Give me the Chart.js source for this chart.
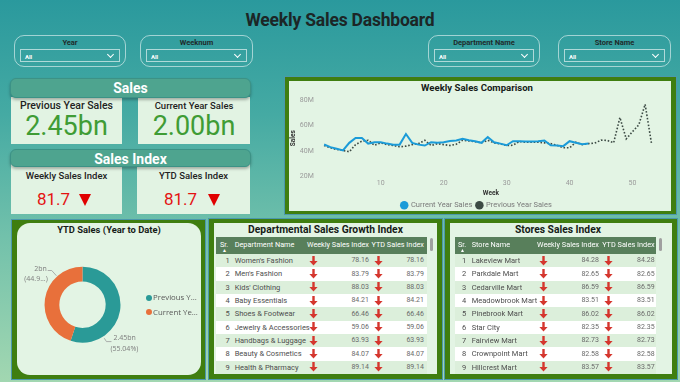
<!DOCTYPE html>
<html>
<head>
<meta charset="utf-8">
<script src="https://cdn.jsdelivr.net/npm/chart.js@4.4.1/dist/chart.umd.min.js"></script>
<style>
  html, body { margin: 0; padding: 0; }
  body {
    width: 680px; height: 382px; overflow: hidden; position: relative;
    font-family: Roboto, 'Open Sans', sans-serif;
    background: linear-gradient(180deg, #2a999d 0%, #45aaa3 30%, #72c1ab 62%, #a2d7b1 100%);
  }
  .abs { position: absolute; }
  .title { left: 0; width: 680px; top: 10px; text-align: center; font-size: 17.5px; font-weight: 700; color: #1c2626; letter-spacing: -0.2px; }
  .slicer { border: 1px solid rgba(255,255,255,0.55); border-radius: 10px; height: 30px; top: 35px; }
  .slicer .lbl { position: absolute; left: 0; right: 0; top: 2px; text-align: center; font-size: 7.5px; font-weight: 700; color: #1f2b2b; }
  .slicer .dd { position: absolute; left: 5px; right: 5px; top: 13px; height: 13px; border: 1px solid rgba(255,255,255,0.6); font-size: 6px; color: #fff; font-weight: 700; line-height: 13px; padding-left: 4px; box-sizing: border-box; }
  .slicer .chev { position: absolute; right: 6px; top: 2px; width: 4px; height: 4px; border-right: 1px solid #fff; border-bottom: 1px solid #fff; transform: rotate(45deg); }
  .hdr { background: #4ea48f; border: 1px solid #3c9286; border-radius: 6px; box-shadow: 0 2px 3px rgba(0,0,0,0.28); color: #fff; font-weight: 700; font-size: 14px; text-align: center; box-sizing: border-box; z-index: 2; }
  .card { background: #e2f3e3; box-sizing: border-box; text-align: center; }
  .card .cl { position: absolute; left: 0; right: 0; font-weight: 500; color: #222; }
  .card .cv { position: absolute; left: 0; right: 0; color: #3f9c35; font-size: 27px; }
  .card .iv { position: absolute; color: #e41212; font-size: 17px; }
  .tri { position: absolute; width: 0; height: 0; border-left: 6px solid transparent; border-right: 6px solid transparent; border-top: 12px solid #e00000; }
  .panel { background: #3f7e10; border: 1px solid #4b98ac; box-sizing: border-box; }
  .inner { background: #e3f4e4; }
  .ptitle { font-weight: 700; color: #161c18; text-align: center; }
  .tbl { overflow: hidden; }
  .thead { position: absolute; left: 0; right: 0; top: 0; height: 17px; background: #587f5b; color: #fff; font-size: 7.3px; }
  .row { position: absolute; left: 0; right: 0; height: 13.35px; font-size: 7.5px; color: #4e4e4e; }
  .row span, .thead span { position: absolute; white-space: nowrap; }
  .num { font-size: 7px; color: #6a6a6a; }
  .scroll { background: #a0a0a0; border-radius: 2px; width: 3px; }
  .leg { font-size: 7.8px; color: #595959; font-family: 'Open Sans', sans-serif; white-space: nowrap; }
  .dot { display: inline-block; width: 6px; height: 6px; border-radius: 50%; margin-right: 1px; vertical-align: -0.5px; }
</style>
</head>
<body>
<div class="abs title">Weekly Sales Dashboard</div>

<div class="abs slicer" style="left:14px;width:110px"><div class="lbl">Year</div><div class="dd">All<div class="chev"></div></div></div>
<div class="abs slicer" style="left:140px;width:111px"><div class="lbl">Weeknum</div><div class="dd">All<div class="chev"></div></div></div>
<div class="abs slicer" style="left:428px;width:110px"><div class="lbl">Department Name</div><div class="dd">All<div class="chev"></div></div></div>
<div class="abs slicer" style="left:558px;width:111px"><div class="lbl">Store Name</div><div class="dd">All<div class="chev"></div></div></div>

<div class="abs hdr" style="left:10px;top:78px;width:241px;height:20px;line-height:19px">Sales</div>
<div class="abs card" style="left:11px;top:97px;width:111px;height:47px">
  <div class="cl" style="top:2px;font-size:10.5px">Previous Year Sales</div>
  <div class="cv" style="top:13px">2.45bn</div>
</div>
<div class="abs card" style="left:138px;top:97px;width:112px;height:47px">
  <div class="cl" style="top:3px;font-size:9.5px">Current Year Sales</div>
  <div class="cv" style="top:13px">2.00bn</div>
</div>

<div class="abs hdr" style="left:10px;top:149px;width:241px;height:18px;line-height:18px">Sales Index</div>
<div class="abs card" style="left:11px;top:163px;width:111px;height:51px">
  <div class="cl" style="top:7px;font-size:9.5px">Weekly Sales Index</div>
  <div class="iv" style="left:26px;top:26px">81.7</div>
  <div class="tri" style="left:68px;top:31px"></div>
</div>
<div class="abs card" style="left:137px;top:163px;width:113px;height:51px">
  <div class="cl" style="top:7px;font-size:9.5px">YTD Sales Index</div>
  <div class="iv" style="left:27px;top:26px">81.7</div>
  <div class="tri" style="left:71px;top:31px"></div>
</div>

<!-- line chart panel -->
<div class="abs panel" style="left:284px;top:76px;width:393px;height:139px"></div>
<div class="abs inner" style="left:289px;top:81px;width:382px;height:130px"></div>
<div class="abs ptitle" style="left:289px;top:82px;width:376px;font-size:9.6px">Weekly Sales Comparison</div>
<canvas id="lineChart" class="abs" style="left:289px;top:81px" width="381" height="138"></canvas>

<!-- donut panel -->
<div class="abs panel" style="left:11px;top:219px;width:195px;height:161px"></div>
<div class="abs inner" style="left:17px;top:223px;width:184px;height:152px;border-radius:13px"></div>
<div class="abs ptitle" style="left:17px;top:224px;width:184px;font-size:9.4px">YTD Sales (Year to Date)</div>
<canvas id="donutChart" class="abs" style="left:17px;top:240px" width="183" height="132"></canvas>
<div class="abs leg" id="donutLegend" style="left:146px;top:292px"></div>

<!-- department table -->
<div class="abs panel" style="left:208px;top:218px;width:235px;height:162px"></div>
<div class="abs inner" style="left:214px;top:223px;width:223px;height:151px"></div>
<div class="abs ptitle" style="left:214px;top:223px;width:223px;font-size:10.3px">Departmental Sales Growth Index</div>
<div class="abs tbl" id="deptTable" style="left:216px;top:237px;width:211px;height:137px"></div>
<div class="abs scroll" style="left:430px;top:238px;height:13px"></div>

<!-- stores table -->
<div class="abs panel" style="left:444px;top:218px;width:234px;height:162px"></div>
<div class="abs inner" style="left:450px;top:223px;width:222px;height:151px"></div>
<div class="abs ptitle" style="left:450px;top:223px;width:216px;font-size:10.3px">Stores Sales Index</div>
<div class="abs tbl" id="storeTable" style="left:455px;top:237px;width:201px;height:137px"></div>
<div class="abs scroll" style="left:659px;top:238px;height:13px"></div>

<script>
// weekly sales, millions
const weekNumbers = [1, 2, 3, 4, 5, 6, 7, 8, 9, 10, 11, 12, 13, 14, 15, 16, 17, 18, 19, 20, 21, 22, 23, 24, 25, 26, 27,
  28, 29, 30, 31, 32, 33, 34, 35, 36, 37, 38, 39, 40, 41, 42, 43, 44, 45, 46, 47, 48, 49, 50, 51, 52, 53];
const currentYearSales = [45.1, 43.0, 41.7, 40.4, 46.4, 50.2, 50.2, 45.8, 46.9, 46.9, 45.8, 45.0, 45.0, 53.3, 46.4,
  45.0, 44.3, 46.9, 46.4, 46.9, 47.9, 48.2, 49.5, 48.4, 47.7, 46.4, 51.0, 46.9, 45.8, 44.5, 47.7, 47.7, 47.4, 47.4,
  47.7, 48.2, 44.5, 44.3, 43.8, 47.7, 46.4, 45.3, 45.8];
const previousYearSales = [44.3, 42.5, 41.2, 40.4, 39.4, 45.0, 47.7, 48.4, 44.5, 46.4, 45.0, 44.3, 43.3, 43.8, 45.0,
  45.8, 48.4, 44.3, 45.8, 45.0, 44.3, 45.3, 48.4, 47.9, 47.2, 46.4, 48.4, 46.4, 45.6, 44.3, 44.5, 47.4, 46.9, 46.9,
  46.9, 46.4, 45.8, 44.5, 42.5, 42.5, 46.9, 45.0, 45.8, 46.2, 48.5, 48.3, 46.4, 66.3, 49.5, 55.2, 60.5, 76.6, 46.4];
const salesTicks = [20, 40, 60, 80];
const weekTicks = [10, 20, 30, 40, 50];

// YTD totals, billions
const ytdLabels = ['Previous Year Sales', 'Current Year Sales'];
const ytdValues = [2.45, 2.00];
const ytdShares = ['55.04%', '44.9...'];

const deptNames = ["Women's Fashion", "Men's Fashion", "Kids' Clothing", 'Baby Essentials', 'Shoes & Footwear',
  'Jewelry & Accessories', 'Handbags & Luggage', 'Beauty & Cosmetics', 'Health & Pharmacy'];
const deptWeeklyIndex = [78.16, 83.79, 88.03, 84.21, 66.46, 59.06, 63.93, 84.07, 89.14];
const deptYtdIndex = [78.16, 83.79, 88.03, 84.21, 66.46, 59.06, 63.93, 84.07, 89.14];

const storeNames = ['Lakeview Mart', 'Parkdale Mart', 'Cedarville Mart', 'Meadowbrook Mart', 'Pinebrook Mart',
  'Star City', 'Fairview Mart', 'Crownpoint Mart', 'Hillcrest Mart'];
const storeWeeklyIndex = [84.28, 82.65, 86.59, 83.51, 86.02, 82.35, 82.73, 82.58, 83.57];
const storeYtdIndex = [84.28, 82.65, 86.59, 83.51, 86.02, 82.35, 82.73, 82.58, 83.57];

const blue = '#1b9bd8';
const darkGrey = '#3c4a44';
const teal = '#2a9a97';
const orange = '#e8703b';

Chart.defaults.font.family = "Roboto, 'Open Sans', sans-serif";

function renderLineChart() {
  const ctx = document.getElementById('lineChart');
  new Chart(ctx, {
    type: 'line',
    data: {
      datasets: [
        {
          label: 'Current Year Sales',
          data: currentYearSales.map((v, i) => ({ x: weekNumbers[i], y: v })),
          borderColor: blue,
          backgroundColor: blue,
          borderWidth: 2,
          pointRadius: 0,
          tension: 0,
        },
        {
          label: 'Previous Year Sales',
          data: previousYearSales.map((v, i) => ({ x: weekNumbers[i], y: v })),
          borderColor: darkGrey,
          backgroundColor: darkGrey,
          borderWidth: 1.6,
          borderDash: [1.6, 1.8],
          pointRadius: 0,
          tension: 0,
        },
      ],
    },
    options: {
      responsive: false,
      animation: false,
      layout: { padding: { top: 19, right: 6, left: 0, bottom: 0 } },
      plugins: {
        tooltip: { enabled: false },
        legend: {
          position: 'bottom',
          labels: {
            usePointStyle: true,
            pointStyle: 'circle',
            boxWidth: 6,
            boxHeight: 6,
            padding: 4,
            color: '#7a7a7a',
            font: { size: 7.5 },
            generateLabels(chart) {
              return chart.data.datasets.map((ds, i) => ({
                text: ds.label,
                fillStyle: ds.backgroundColor,
                strokeStyle: ds.backgroundColor,
                lineWidth: 0,
                lineDash: [],
                pointStyle: 'circle',
                fontColor: '#7a7a7a',
                datasetIndex: i,
              }));
            },
          },
        },
      },
      scales: {
        x: {
          type: 'linear',
          min: 0,
          max: 55,
          grid: { display: false, drawTicks: false },
          border: { display: false },
          afterBuildTicks(scale) {
            scale.ticks = weekTicks.map((v) => ({ value: v }));
          },
          afterFit(scale) {
            scale.height = 21;
          },
          ticks: { color: '#9a9a9a', font: { size: 7 }, padding: 3 },
          title: { display: true, text: 'Week', color: '#333', font: { size: 6.5, weight: 'bold' }, padding: 0 },
        },
        y: {
          min: 20,
          max: 80,
          grid: { display: false, drawTicks: false },
          border: { display: false },
          afterBuildTicks(scale) {
            scale.ticks = salesTicks.map((v) => ({ value: v }));
          },
          afterFit(scale) {
            scale.width = 28.8;
          },
          ticks: {
            color: '#9a9a9a',
            font: { size: 7 },
            padding: 4,
            callback(value) {
              return `${value}M`;
            },
          },
          title: { display: true, text: 'Sales', color: '#333', font: { size: 6.5, weight: 'bold' }, padding: 0 },
        },
      },
    },
  });
}

// leader-line labels drawn from the arcs the library laid out
const donutLabelAngles = [147, 318];
const donutLabelsPlugin = {
  id: 'donutLabels',
  afterDatasetsDraw(chart) {
    const meta = chart.getDatasetMeta(0);
    const { ctx } = chart;
    ctx.save();
    ctx.font = "7px 'Open Sans', sans-serif";
    ctx.textBaseline = 'middle';
    ctx.fillStyle = '#7d7d7d';
    ctx.strokeStyle = '#9a9a9a';
    ctx.lineWidth = 0.8;
    meta.data.forEach((arc, i) => {
      const a = (donutLabelAngles[i] * Math.PI) / 180;
      const right = Math.sin(a) > 0;
      const r0 = arc.outerRadius + (right ? 2 : 1);
      const r1 = arc.outerRadius + (right ? 6 : 8);
      const sx = arc.x + r0 * Math.sin(a);
      const sy = arc.y - r0 * Math.cos(a);
      const ex = arc.x + r1 * Math.sin(a);
      const ey = arc.y - r1 * Math.cos(a);
      const hx = ex + (right ? 5 : -4);
      ctx.beginPath();
      ctx.moveTo(sx, sy);
      ctx.lineTo(ex, ey);
      ctx.lineTo(hx, ey);
      ctx.stroke();
      const valueText = `${ytdValues[i] % 1 === 0 ? ytdValues[i].toFixed(0) : ytdValues[i].toFixed(2)}bn`;
      const shareText = `(${ytdShares[i]})`;
      if (right) {
        ctx.textAlign = 'left';
        ctx.fillText(valueText, hx + 2, ey - 4);
        ctx.fillText(shareText, hx - 1, ey + 7);
      } else {
        ctx.textAlign = 'right';
        ctx.fillText(valueText, hx - 1, ey - 2);
        ctx.fillText(shareText, hx, ey + 8);
      }
    });
    ctx.restore();
  },
};

function renderDonutChart() {
  const ctx = document.getElementById('donutChart');
  new Chart(ctx, {
    type: 'doughnut',
    data: {
      labels: ytdLabels,
      datasets: [
        {
          data: ytdValues,
          backgroundColor: [teal, orange],
          borderWidth: 0,
        },
      ],
    },
    options: {
      responsive: false,
      animation: false,
      cutout: '61%',
      layout: { padding: { left: 27.5, top: 26.7, right: 79.5, bottom: 29.3 } },
      plugins: { legend: { display: false }, tooltip: { enabled: false } },
    },
    plugins: [donutLabelsPlugin],
  });

  const legend = document.getElementById('donutLegend');
  legend.innerHTML = ytdLabels
    .map((label, i) => {
      const colour = [teal, orange][i];
      const short = label.split(' ').slice(0, 2).join(' ').slice(0, 10) + '...';
      return `<div style="height:14.5px"><span class="dot" style="background:${colour}"></span>${short}</div>`;
    })
    .join('');
}

const arrowSvg =
  '<svg width="9" height="10" viewBox="0 0 9 10"><path d="M3.3 0 H5.7 V5 H8.6 L4.5 9.6 L0.4 5 H3.3 Z" fill="#d5362e"/></svg>';

function renderTable(id, header, names, weekly, ytd, cols) {
  const el = document.getElementById(id);
  let html = `<div class="thead">
    <span style="left:${cols.sr}px;top:3px">Sr.</span>
    <span style="left:${cols.sr + 2}px;top:10px;font-size:5px">&#9650;</span>
    <span style="left:${cols.name}px;top:3px">${header}</span>
    <span style="right:${cols.width - cols.wNum}px;top:3px">Weekly Sales Index</span>
    <span style="right:${cols.width - cols.yNum}px;top:3px">YTD Sales Index</span>
  </div>`;
  names.forEach((name, i) => {
    const top = 17 + i * 13.35;
    const bg = i % 2 === 0 ? '#dcefdb' : '#ffffff';
    html += `<div class="row" style="top:${top}px;background:${bg}">
      <span style="right:${cols.width - cols.num}px;top:2px">${i + 1}</span>
      <span style="left:${cols.name}px;top:2px">${name}</span>
      <span style="left:${cols.wArrow - 4.5}px;top:1.6px">${arrowSvg}</span>
      <span class="num" style="right:${cols.width - cols.wNum}px;top:2.3px">${weekly[i].toFixed(2)}</span>
      <span style="left:${cols.yArrow - 4.5}px;top:1.6px">${arrowSvg}</span>
      <span class="num" style="right:${cols.width - cols.yNum}px;top:2.3px">${ytd[i].toFixed(2)}</span>
    </div>`;
  });
  el.innerHTML = html;
}

renderLineChart();
renderDonutChart();
renderTable('deptTable', 'Department Name', deptNames, deptWeeklyIndex, deptYtdIndex,
  { width: 211, sr: 4, num: 13.7, name: 18.7, wArrow: 97.7, wNum: 153, yArrow: 162.7, yNum: 208 });
renderTable('storeTable', 'Store Name', storeNames, storeWeeklyIndex, storeYtdIndex,
  { width: 201, sr: 3, num: 11.3, name: 16.7, wArrow: 88.7, wNum: 144, yArrow: 153.7, yNum: 199.7 });
</script>
</body>
</html>
